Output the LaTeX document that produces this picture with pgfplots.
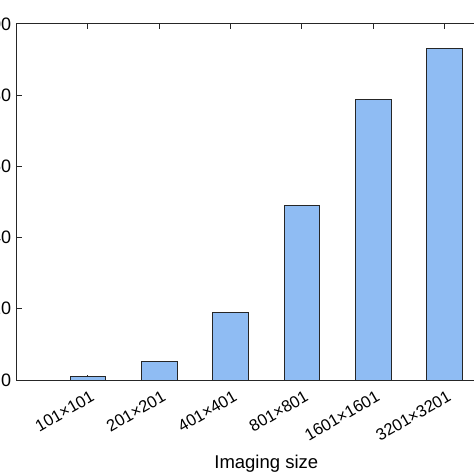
\documentclass[border=0pt]{standalone}
\usepackage{pgfplots}
\pgfplotsset{compat=1.18}
\usepackage{fontspec}
\setmainfont{Liberation Sans}
\definecolor{barblue}{RGB}{143,188,243}
\definecolor{axgray}{RGB}{38,38,38}

\begin{document}
\begin{tikzpicture}
\begin{axis}[
    scale only axis,
    width=499.4pt,
    height=356pt,
    xmin=0, xmax=7,
    ymin=0, ymax=100,
    xtick={1,2,3,4,5,6},
    xticklabels={101×101, 201×201, 401×401, 801×801, 1601×1601, 3201×3201},
    ytick={0,20,40,60,80,100},
    axis line style={axgray, line width=1pt},
    every tick/.style={axgray, line width=1pt},
    major tick length=5pt,
    tick align=inside,
    xticklabel style={rotate=30, anchor=north east, font=\fontsize{16.5}{16.5}\selectfont, yshift=-6pt},
    yticklabel style={font=\fontsize{18}{18}\selectfont, xshift=-2pt},
    /pgf/number format/assume math mode=true,
    xlabel={Imaging size},
    xlabel style={at={(axis description cs:0.5,0)}, anchor=north, yshift=-71.7pt, font=\fontsize{18.5}{18.5}\selectfont},
]
\addplot[ybar, bar width=0.5, fill=barblue, draw=black!85, line width=1pt]
    coordinates {(1,0.9) (2,5.1) (3,19.0) (4,48.9) (5,78.9) (6,93.0)};
\coordinate (sw) at (rel axis cs:0,0);
\end{axis}
\pgfresetboundingbox
\path[use as bounding box] ([xshift=-16.6pt,yshift=-94pt]sw) rectangle ([xshift=457.4pt,yshift=380pt]sw);
\end{tikzpicture}
\end{document}
